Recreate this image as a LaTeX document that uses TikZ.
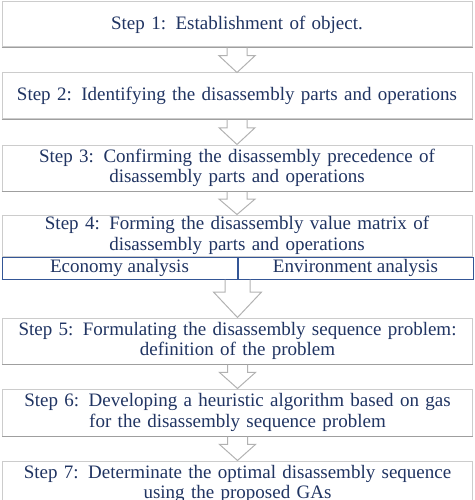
\documentclass[tikz,border=0pt]{standalone}
\usepackage{fontspec}
\setmainfont{Liberation Serif}
\usepackage{xcolor}
\usetikzlibrary{calc, positioning}

\definecolor{stepblue}{RGB}{32,52,98}
\definecolor{subblue}{RGB}{52,86,150}

% hollow block arrow between two anchors: from, to, shaft half width, head half width
\newcommand{\flowarrow}[4]{%
  \draw[flow arrow] ($(#1)+(-#3pt,0)$) -- ($(#1)!0.33!(#2)+(-#3pt,0)$)
    -- ($(#1)!0.33!(#2)+(-#4pt,0)$) -- (#2)
    -- ($(#1)!0.33!(#2)+(#4pt,0)$) -- ($(#1)!0.33!(#2)+(#3pt,0)$)
    -- ($(#1)+(#3pt,0)$);}

\begin{document}
\begin{tikzpicture}[node distance=25pt,
                    step node/.style={draw=gray!40,line width=1pt,fill=white,text=stepblue,
                      align=center,text width=464pt,inner xsep=3pt,inner ysep=0pt,
                      minimum height=46pt,font=\fontsize{19pt}{20.5pt}\selectfont},
                    sub node/.style={draw=subblue,line width=1pt,text=stepblue,
                      minimum width=235pt,minimum height=22pt,inner sep=0pt,
                      font=\fontsize{19pt}{20pt}\selectfont},
                    shade line/.style={draw=gray!75,line width=1.6pt},
                    flow arrow/.style={draw=gray!60,line width=1pt,line join=miter}]

  \useasboundingbox (0,0) rectangle (474pt,-500pt);

  \node[step node,minimum height=45pt] (s1) at (237pt,-24.5pt) {Step 1: Establishment of object.};
  \node[step node] (s2) [below=of s1] {Step 2: Identifying the disassembly parts and operations};
  \node[step node] (s3) [below=of s2] {Step 3: Confirming the disassembly precedence of\\disassembly parts and operations};
  \node[step node,minimum height=41pt] (s4) [below=23pt of s3] {Step 4: Forming the disassembly value matrix of\\disassembly parts and operations};
  \node[sub node,anchor=north west] (econ) at (s4.south west) {Economy analysis};
  \node[sub node,right=0pt of econ] (env) {Environment analysis};
  \node[step node] (s5) [below=38pt of econ.south east] {Step 5: Formulating the disassembly sequence problem:\\definition of the problem};
  \node[step node,minimum height=47pt] (s6) [below=24pt of s5] {Step 6: Developing a heuristic algorithm based on gas\\for the disassembly sequence problem};
  \node[step node] (s7) [below=24pt of s6] {Step 7: Determinate the optimal disassembly sequence\\using the proposed GAs};

  \foreach \n in {s1,s2,s3,s5,s6}
    \draw[shade line] (\n.south west) -- (\n.south east);
  \draw[draw=subblue,line width=1.8pt] (econ.south west) -- (env.south east);

  \foreach \a/\b in {s1/s2,s2/s3,s3/s4,s5/s6,s6/s7}
    {\flowarrow{\a.south}{\b.north}{10}{18}}
  \flowarrow{econ.south east}{s5.north}{12.5}{24}

\end{tikzpicture}
\end{document}
